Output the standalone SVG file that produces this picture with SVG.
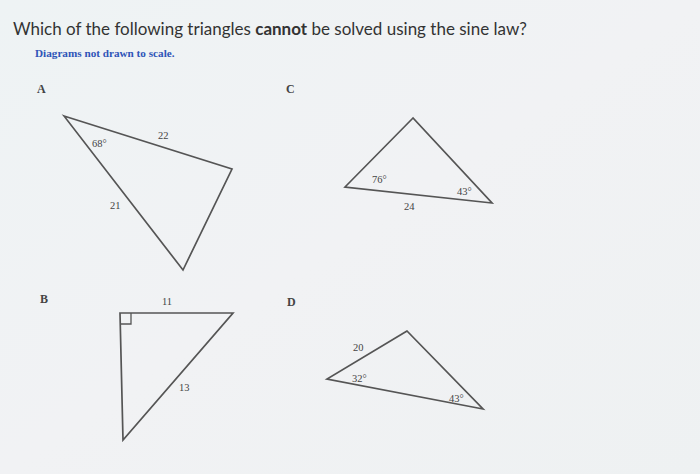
<svg xmlns="http://www.w3.org/2000/svg" width="700" height="474" viewBox="0 0 700 474">
<defs>
<style>
.tri{fill:none;stroke:#555;stroke-width:1.7;stroke-linejoin:miter}
.lbl{font-family:"Liberation Serif",serif;font-size:10.5px;fill:#444}
.big{font-family:"Liberation Serif",serif;font-size:12px;font-weight:bold;fill:#444}
</style>
<linearGradient id="bg" x1="0" y1="0" x2="1" y2="1">
<stop offset="0" stop-color="#eef3f4"/>
<stop offset="0.5" stop-color="#f1f2f4"/>
<stop offset="1" stop-color="#eef1f2"/>
</linearGradient>
</defs>
<rect width="700" height="474" fill="url(#bg)"/>
<text x="13" y="35" font-family="Lato,sans-serif" font-size="17" fill="#333">Which of the following triangles <tspan font-weight="bold">cannot</tspan> be solved using the sine law?</text>
<text x="35" y="57" font-family="Liberation Serif,serif" font-size="11.2" font-weight="bold" fill="#2f55b8">Diagrams not drawn to scale.</text>
<g id="labelA"><text class="big" x="37" y="93">A</text></g>
<g id="labelC"><text class="big" x="286" y="93">C</text></g>
<g id="labelB"><text class="big" x="40" y="303">B</text></g>
<g id="labelD"><text class="big" x="287" y="306">D</text></g>
<g id="triA">
<polygon class="tri" points="64,116 232,169 183,270"/>
<text class="lbl" x="92" y="147">68°</text>
<text class="lbl" x="158" y="139">22</text>
<text class="lbl" x="110" y="209">21</text>
</g>
<g id="triC">
<polygon class="tri" points="413,118 345,187 492,203"/>
<text class="lbl" x="372" y="183">76°</text>
<text class="lbl" x="457" y="195">43°</text>
<text class="lbl" x="404" y="210">24</text>
</g>
<g id="triB">
<polygon class="tri" points="120,313 233,313 123,440"/>
<polyline class="tri" style="stroke-width:1.3" points="120,324 131,324 131,313"/>
<text class="lbl" x="162" y="305">11</text>
<text class="lbl" x="179" y="391">13</text>
</g>
<g id="triD">
<polygon class="tri" points="407,331 327,379 483,409"/>
<text class="lbl" x="353" y="351">20</text>
<text class="lbl" x="352" y="382">32°</text>
<text class="lbl" x="449" y="402">43°</text>
</g>
<g id="connectors"/>
</svg>
